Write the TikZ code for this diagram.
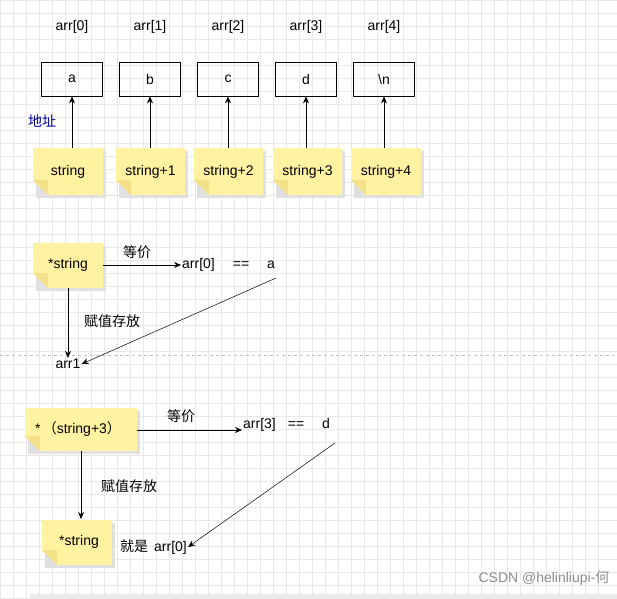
\documentclass[tikz,border=0pt]{standalone}
\usepackage{fontspec}
\usetikzlibrary{arrows.meta}
\setmainfont{Liberation Sans}
\newfontfamily\cjk{Noto Sans CJK SC}
\definecolor{notey}{HTML}{FFF2A1}
\definecolor{notef}{HTML}{F5E08A}
\begin{document}
\begin{tikzpicture}[x=1pt,y=-1pt,font=\fontsize{14}{16}\selectfont,
  cell/.style={draw,thick,minimum width=61pt,minimum height=34pt,inner sep=0pt},
  txt/.style={inner sep=1pt},
  lbl/.style={inner sep=1pt,font=\fontsize{14}{16}\selectfont\cjk},
  arr/.style={-{Stealth[length=7pt,width=6pt]},line width=0.7pt}]
\useasboundingbox (0,0) rectangle (617,598);
\fill[white] (0,0) rectangle (617,598);
\foreach \k in {0,13,...,610}{\draw[black!9] (\k,0) -- (\k,598);}
\foreach \k in {0,13,...,598}{\draw[black!9] (0,\k) -- (617,\k);}
\draw[black!25,dashed] (0,355) -- (617,355);
\fill[black!8] (30,594) rectangle (617,598);
\newcommand\note[5]{% name, x1,y1,x2,y2
  \fill[black!12] (#2+3,#3+3) rectangle (#4+3,#5+3);
  \fill[notey] (#2,#3) -- (#4,#3) -- (#4,#5) -- (#2+15,#5) -- (#2,#5-15) -- cycle;
  \fill[notef] (#2,#5-15) -- (#2+15,#5-15) -- (#2+15,#5) -- cycle;
  \coordinate (#1) at ({(#2+#4)/2},{(#3+#5)/2});
}
\foreach \i/\x/\t in {0/72/a,1/150/b,2/228/c,3/306/d,4/384/\textbackslash n}{
  \node[cell] (c\i) at (\x,79) {\t};
  \node[txt] (h\i) at (\x,27) {arr[\i]};
}
\note{s0}{33}{148}{103}{195}
\note{s1}{116}{148}{185}{195}
\note{s2}{194}{148}{263}{195}
\note{s3}{273}{148}{342}{195}
\note{s4}{351}{148}{421}{195}
\node[txt] at (s0) {string};
\node[txt] at (s1) {string+1};
\node[txt] at (s2) {string+2};
\node[txt] at (s3) {string+3};
\node[txt] at (s4) {string+4};
\foreach \i/\x in {0/72,1/150,2/228,3/306,4/384}{
  \draw[arr] (\x,148) -- (c\i.south);
}
\node[lbl,text=blue!60!black] (addr) at (42,121) {地址};
% second
\note{p}{33}{243}{103}{288}
\node[txt] (pt) at (68,265) {*string};
\node[txt,anchor=west] (eq1) at (181,265) {arr[0]\hspace{18pt}==\hspace{18pt}a};
\draw[arr] (103,265) -- (eq1.west);
\node[lbl] at (137,252) {等价};
\node[txt] (arr1) at (68,364) {arr1};
\draw[arr] (68,288) -- (arr1.north);
\node[lbl] at (112,321) {赋值存放};
\coordinate (af) at (276,278);
\draw[arr,line width=0.5pt] (af) -- (arr1.east);
% third
\note{q}{25}{408}{137}{451}
\node[txt] at (78,429) {*\,{\cjk （}string+3{\cjk ）}};
\node[txt,anchor=west] (eq2) at (242,425) {arr[3]\hspace{12pt}==\hspace{18pt}d};
\draw[arr] (137,430) -- (eq2.west|-0,430);
\node[lbl] at (181,416) {等价};
\note{r}{42}{520}{112}{565}
\node[txt] at (79,542) {*string};
\coordinate (rn) at (81,519);
\draw[arr] (81,451) -- (rn);
\node[lbl] at (129,486) {赋值存放};
\node[txt,anchor=west] (is) at (119,547) {{\cjk 就是}\hspace{6pt}arr[0]};
\coordinate (df) at (335,443);
\draw[arr,line width=0.5pt] (df) -- (is.east);
\node[text=black!45,anchor=east,font=\fontsize{14}{16}\selectfont] (wm) at (613,578) {CSDN @helinliupi-{\cjk 何}};
\end{tikzpicture}
\end{document}
